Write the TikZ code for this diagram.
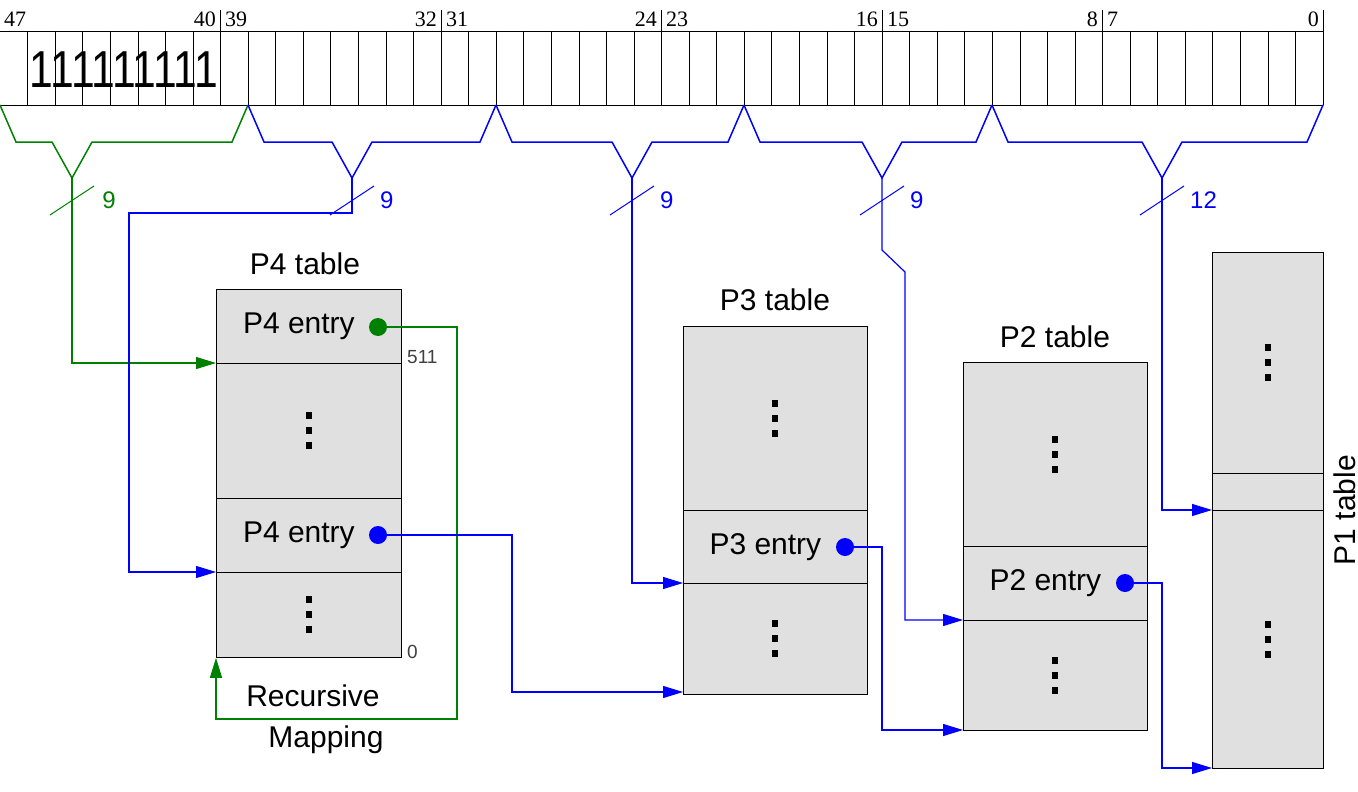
\documentclass[tikz,border=0pt]{standalone}
\usepackage{fontspec}
\setmainfont{Liberation Sans}
\newfontfamily\bitfont{Liberation Serif}
\usetikzlibrary{arrows.meta}
\definecolor{rowgray}{HTML}{E0E0E0}
\definecolor{dkgreen}{HTML}{008000}
\begin{document}
\begin{tikzpicture}[x=1pt,y=-1pt,
  every node/.style={inner sep=0pt},
  lbl/.style={font=\fontsize{30}{34}\selectfont},
  bitnum/.style={font=\bitfont\fontsize{22}{24}\selectfont},
  row/.style={draw=black, fill=rowgray, line width=0.8pt, anchor=north west, minimum width=#1},
  link/.style={line width=1.2pt, -{Triangle[length=20pt,width=12pt]}},
  brace/.style={line width=1.5pt},
  vdot/.style={fill=black, minimum width=6pt, minimum height=7pt},
]
\useasboundingbox (0,0) rectangle (1358,792);

% address bit field
\draw[line width=0.8pt] (0,31) -- (1323,31) (0,105) -- (1323,105);
\foreach \i in {1,...,48} \draw[line width=0.6pt] ({\i*27.5625},31) -- ({\i*27.5625},105);
\foreach \i in {8,16,24,32,40,48} \draw[line width=0.6pt] ({\i*27.5625},10) -- ({\i*27.5625},31);
\foreach \t/\x/\a in {47/4/west, 40/216/east, 39/225/west, 32/437/east, 31/446/west,
  24/657/east, 23/666/west, 16/878/east, 15/887/west, 8/1098/east, 7/1107/west, 0/1319/east}
  \node[bitnum, anchor=\a] (b\t) at (\x,19) {\t};
\node[font=\fontsize{52}{52}\selectfont, xscale=0.82] (ones) at (124,70) {111111111};

% braces
\draw[brace, dkgreen] (0,105) -- (16,142) -- (52,142) -- (72,178) -- (92,142) -- (232,142) -- (248,105);
\foreach \a/\b/\c in {248/496/352, 496/744/632, 744/992/882}
  \draw[brace, blue] (\a,105) -- (\a+16,142) -- (\c-20,142) -- (\c,178) -- (\c+20,142) -- (\b-16,142) -- (\b,105);
\draw[brace, blue] (992,105) -- (1008,142) -- (1142,142) -- (1162,178) -- (1182,142) -- (1307,142) -- (1323,105);
\coordinate (t4) at (72,178);
\coordinate (t3) at (352,178);
\coordinate (t2) at (632,178);
\coordinate (t1) at (882,178);
\coordinate (t0) at (1162,178);

% width slashes
\draw[line width=1pt, dkgreen] (50,215) -- (94,186);
\node[dkgreen, font=\fontsize{24}{26}\selectfont] (w4) at (109,200) {9};
\foreach \c/\n/\m in {352/9/w3, 632/9/w2, 882/9/w1, 1162/12/w0} {
  \draw[line width=1pt, blue] (\c-22,215) -- (\c+22,186);
  \node[blue, anchor=west, font=\fontsize{24}{26}\selectfont] (\m) at (\c+28,200) {\n};
}

% P4 table
\node[lbl] (p4l) at (305,264) {P4 table};
\node[row=185pt, minimum height=74pt] (p4a) at (216,289) {};
\node[lbl] at ([xshift=-10pt]p4a.center) {P4 entry};
\node[row=185pt, minimum height=135pt] (p4b) at (216,363) {};
\node[row=185pt, minimum height=74pt] (p4c) at (216,498) {};
\node[lbl] at ([xshift=-10pt]p4c.center) {P4 entry};
\node[row=185pt, minimum height=85pt] (p4d) at (216,572) {};
\node[font=\fontsize{19}{22}\selectfont, text=black!75, anchor=west] (n511) at (407,357) {511};
\node[font=\fontsize{19}{22}\selectfont, text=black!75, anchor=west] (n0) at (407,652) {0};

% P3 table
\node[lbl] (p3l) at (775,300) {P3 table};
\node[row=184pt, minimum height=184pt] (p3a) at (683,326) {};
\node[row=184pt, minimum height=73pt] (p3b) at (683,510) {};
\node[lbl] at ([xshift=-10pt]p3b.center) {P3 entry};
\node[row=184pt, minimum height=111pt] (p3c) at (683,583) {};

% P2 table
\node[lbl] (p2l) at (1055,337) {P2 table};
\node[row=184pt, minimum height=184pt] (p2a) at (963,362) {};
\node[row=184pt, minimum height=74pt] (p2b) at (963,546) {};
\node[lbl] at ([xshift=-10pt]p2b.center) {P2 entry};
\node[row=184pt, minimum height=110pt] (p2c) at (963,620) {};

% P1 table
\node[row=111pt, minimum height=221pt] (p1a) at (1212,252) {};
\node[row=111pt, minimum height=37pt] (p1b) at (1212,473) {};
\node[row=111pt, minimum height=258pt] (p1c) at (1212,510) {};
\node[lbl, rotate=90] (p1l) at (1345,510) {P1 table};

% vertical ellipses
\foreach \p in {p4b, p4d, p3a, p3c, p2a, p2c, p1a, p1c}
  \foreach \d in {-15,0,15} \node[vdot] at ([yshift=\d pt]\p.center) {};

% entry dots
\node[circle, fill=dkgreen, minimum size=18pt] (d4a) at (378,327) {};
\node[circle, fill=blue, minimum size=18pt] (d4c) at (378,535) {};
\node[circle, fill=blue, minimum size=18pt] (d3) at (845,547) {};
\node[circle, fill=blue, minimum size=18pt] (d2) at (1125,583) {};

% index connectors
\draw[link, dkgreen] (t4) -- (t4 |- p4b.north) -- (p4b.north west);
\draw[link, blue] (t3) -- ++(0,35) -| (129,572) -- (p4d.north west);
\draw[link, blue] (t2) -- (t2 |- p3c.north) -- (p3c.north west);
\draw[link, blue] (t1) -- (882,250) -- (905,272) |- (p2c.north west);
\draw[link, blue] (t0) -- (t0 |- p1c.north) -- (p1c.north west);

% entry connectors
\draw[link, dkgreen] (d4a) -| (457,719) -| (p4d.south west);
\draw[link, blue] (d4c) -| (512,692) -- (683,692);
\draw[link, blue] (d3) -| (882,730) -- (963,730);
\draw[link, blue] (d2) -| (1162,768) -- (1212,768);

\node[lbl] (rec) at (313,696) {Recursive};
\node[lbl] (map) at (326,740) {Mapping};
\end{tikzpicture}
\end{document}
